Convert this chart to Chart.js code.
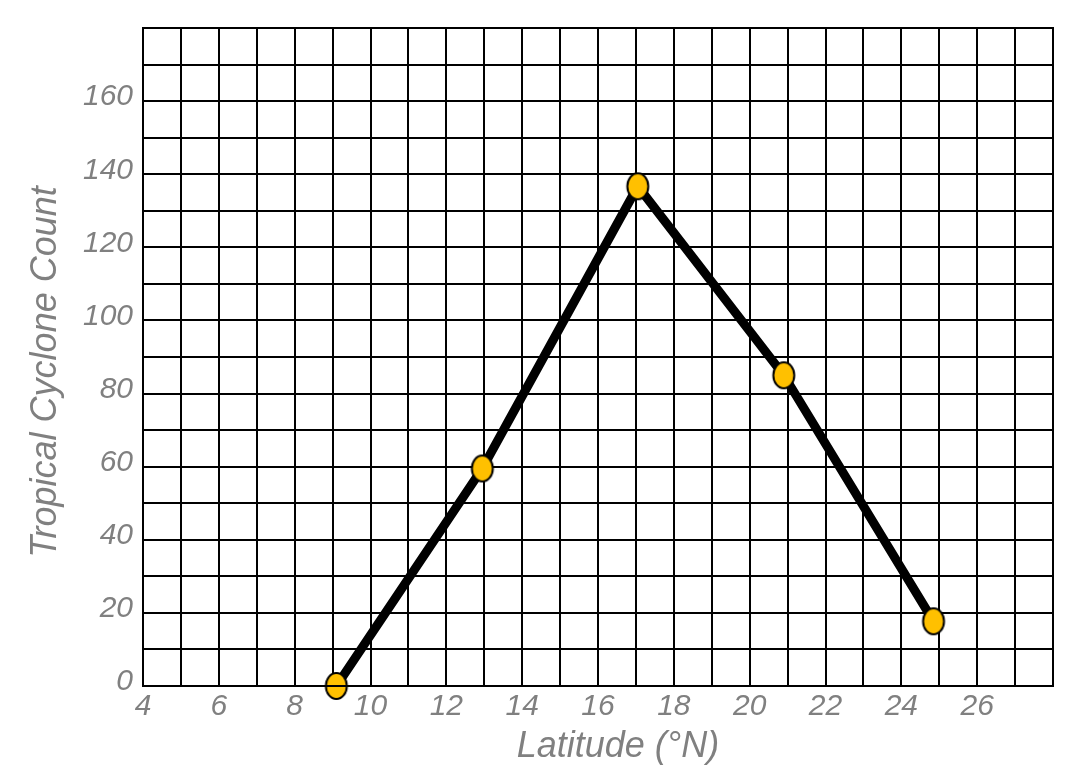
<!DOCTYPE html>
<html>
<head>
<meta charset="utf-8">
<script src="https://cdn.jsdelivr.net/npm/chart.js@4.4.1/dist/chart.umd.min.js"></script>
<style>
  html, body { margin: 0; padding: 0; background: #fff; }
  #wrap { width: 1070px; height: 769px; position: relative; }
</style>
</head>
<body>
<div id="wrap"><canvas id="myChart"></canvas></div>
<script>
// data
const latitudes = [9.1, 12.95, 17.05, 20.9, 24.85];
const cycloneCounts = [0, 59.5, 136.7, 85, 17.7];
const xTickLabels = [4, 6, 8, 10, 12, 14, 16, 18, 20, 22, 24, 26];
const yTickLabels = [0, 20, 40, 60, 80, 100, 120, 140, 160];

const gray = '#808080';
const fontFamily = 'Liberation Sans, Arial, sans-serif';
const tickFont = { family: fontFamily, size: 30, style: 'italic' };
const titleFont = { family: fontFamily, size: 36, style: 'italic' };

// oval marker, a bit taller than wide
const marker = document.createElement('canvas');
marker.width = 26;
marker.height = 30;
const mctx = marker.getContext('2d');
mctx.beginPath();
mctx.ellipse(13, 15, 10.5, 13, 0, 0, Math.PI * 2);
mctx.fillStyle = '#FFC000';
mctx.fill();
mctx.lineWidth = 2;
mctx.strokeStyle = '#000';
mctx.stroke();

const ctx = document.getElementById('myChart');
const chart = new Chart(ctx, {
  type: 'scatter',
  data: {
    datasets: [{
      data: latitudes.map((x, i) => ({ x: x, y: cycloneCounts[i] })),
      showLine: true,
      clip: false,
      borderColor: '#000',
      borderWidth: 9,
      pointStyle: marker,
      pointRadius: 13,
      pointHoverRadius: 13
    }]
  },
  options: {
    responsive: true,
    maintainAspectRatio: false,
    animation: false,
    layout: { autoPadding: false, padding: { top: 27, right: 17, left: 24, bottom: 0 } },
    plugins: {
      legend: { display: false },
      tooltip: { enabled: false }
    },
    scales: {
      x: {
        type: 'linear',
        min: 4,
        max: 28,
        afterFit: (scale) => { scale.height = 83; },
        grid: { color: '#000', lineWidth: 2, drawTicks: false },
        border: { color: '#000', width: 2 },
        ticks: {
          stepSize: 1,
          autoSkip: false,
          maxRotation: 0,
          padding: 3,
          color: gray,
          font: tickFont,
          callback: (v) => xTickLabels.includes(v) ? String(v) : ''
        },
        title: {
          display: true,
          text: '    Latitude (°N)',
          color: gray,
          font: titleFont,
          padding: 0
        }
      },
      y: {
        type: 'linear',
        min: 0,
        max: 180,
        afterFit: (scale) => { scale.width = 119; },
        grid: { color: '#000', lineWidth: 2, drawTicks: false },
        border: { color: '#000', width: 2 },
        ticks: {
          stepSize: 10,
          autoSkip: false,
          padding: 10,
          labelOffset: -4,
          color: gray,
          font: tickFont,
          callback: (v) => yTickLabels.includes(v) ? String(v) : ''
        },
        title: {
          display: true,
          text: 'Tropical Cyclone Count   ',
          color: gray,
          font: titleFont,
          padding: 0
        }
      }
    }
  },
  plugins: [{
    // top and right frame lines
    id: 'frame',
    afterDraw(c) {
      const a = c.chartArea;
      const g = c.ctx;
      g.save();
      g.strokeStyle = '#000';
      g.lineWidth = 2;
      g.strokeRect(a.left, a.top, a.right - a.left, a.bottom - a.top);
      g.restore();
    }
  }]
});
</script>
</body>
</html>
